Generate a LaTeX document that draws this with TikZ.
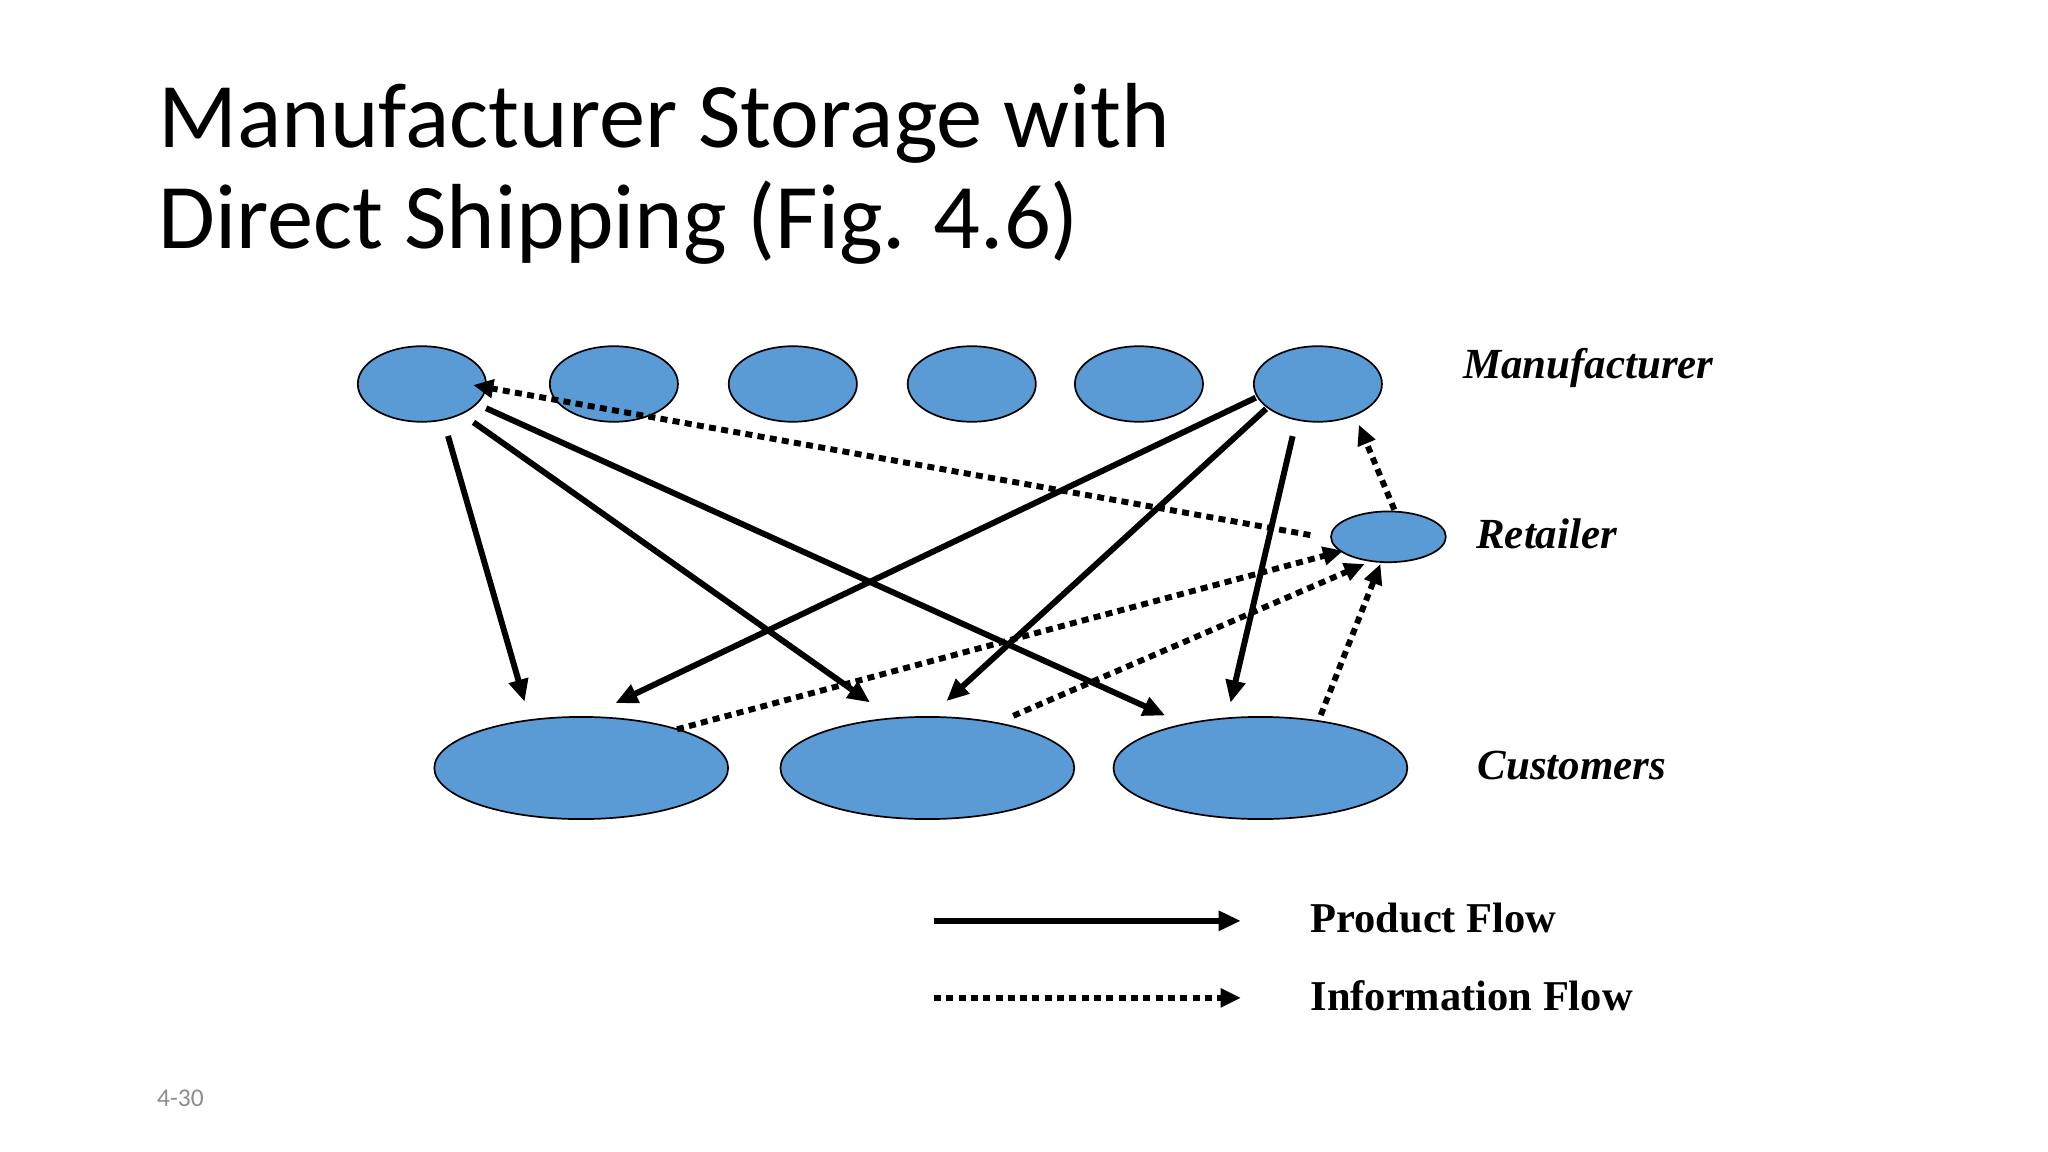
\documentclass[tikz,border=0pt]{standalone}
\usepackage{fontspec}
\setmainfont{Liberation Serif}
\newfontfamily\slidefont{Carlito}
\usetikzlibrary{arrows.meta,shapes.geometric}
\definecolor{siteblue}{RGB}{91,155,213}

\begin{document}
\begin{tikzpicture}[x=0.0216cm,y=-0.0216cm,
  site/.style={ellipse,draw=black,line width=0.8pt,fill=siteblue,inner sep=0pt,outer sep=0pt},
  plant/.style={site,minimum width=2.12cm,minimum height=1.25cm},
  store/.style={site,minimum width=1.90cm,minimum height=0.84cm},
  buyer/.style={site,minimum width=4.86cm,minimum height=1.69cm},
  product/.style={line width=2.8pt,-{Triangle[length=10.5pt,width=9pt]}},
  info/.style={line width=2.8pt,dash pattern=on 3.3pt off 2.5pt,-{Triangle[length=9.5pt,width=8.5pt]}},
  tier/.style={anchor=west,inner sep=0pt,font=\fontsize{20.2}{24}\selectfont\bfseries\itshape},
  key/.style={anchor=west,inner sep=0pt,font=\fontsize{20}{24}\selectfont\bfseries}]
  \path[use as bounding box] (0,0) rectangle (1568,882);
  % title
  \node[anchor=base west,inner sep=0pt,font=\slidefont\fontsize{43.5}{48}\selectfont] (title1) at (121,113) {Manufacturer Storage with};
  \node[anchor=base west,inner sep=0pt,font=\slidefont\fontsize{43.5}{48}\selectfont] (title2) at (121,190) {Direct Shipping (Fig. 4.6)};
  % manufacturers
  \node[plant] (m1) at (323,294) {};
  \node[plant] (m2) at (470,294) {};
  \node[plant] (m3) at (607,294) {};
  \node[plant] (m4) at (744,294) {};
  \node[plant] (m5) at (872,294) {};
  \node[plant] (m6) at (1009,294) {};
  % retailer
  \node[store] (r) at (1063,411) {};
  % customers
  \node[buyer] (c1) at (445,588) {};
  \node[buyer] (c2) at (710,588) {};
  \node[buyer] (c3) at (965,588) {};
  \node[tier] (lm) at (1120,282) {Manufacturer};
  \node[tier] (lr) at (1130,409) {Retailer};
  \node[tier] (lc) at (1131,586) {Customers};
  % product flow
  \draw[product,shorten <=8pt,shorten >=9pt] (m1.-59) -- (c1.137.5);
  \draw[product,shorten <=7pt,shorten >=13pt] (m1.-37) -- (c2.125);
  \draw[product,shorten <=5pt,shorten >=10pt] (m1.-20.6) -- (c3.150.2);
  \draw[product,shorten <=1pt,shorten >=15pt] (m6.192.8) -- (c1.84.3);
  \draw[product,shorten <=1pt,shorten >=11pt] (m6.205.5) -- (c2.88.8);
  \draw[product,shorten <=8pt,shorten >=7.5pt] (m6.239.7) -- (c3.124.2);
  % information flow
  \draw[info,shorten <=10pt,shorten >=-6pt] (r.182.5) -- (m1.-3);
  \draw[info,shorten <=1pt,shorten >=5pt] (r.75.5) -- (m6.-40.5);
  \draw[info,shorten >=-1pt] (c1.22) -- (r.197.4);
  \draw[info,shorten <=8.5pt,shorten >=3.5pt] (c2.33.5) -- (r.235.8);
  \draw[info,shorten <=3pt,shorten >=1pt] (c3.39.7) -- (r.254.6);
  % legend
  \coordinate (k1a) at (715,705);
  \coordinate (k1b) at (950,705);
  \coordinate (k2a) at (715,764);
  \coordinate (k2b) at (950,764);
  \draw[product,line width=3pt] (k1a) -- (k1b);
  \draw[info,line width=3pt] (k2a) -- (k2b);
  \node[key] (kp) at (1003,703) {Product Flow};
  \node[key] (ki) at (1003,762) {Information Flow};
  \node[anchor=west,inner sep=0pt,text=black!45,font=\slidefont\fontsize{12}{14}\selectfont] (page) at (120,841) {4-30};
\end{tikzpicture}
\end{document}
